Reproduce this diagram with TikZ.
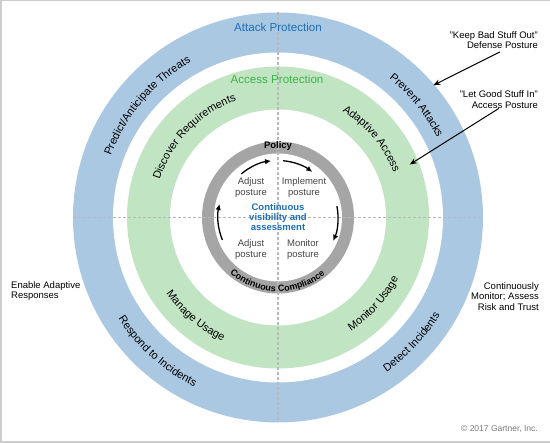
\documentclass[tikz,border=0pt]{standalone}
\usepackage{fontspec}
\setmainfont{Liberation Sans}
\usepackage{xcolor}
\usetikzlibrary{arrows.meta,positioning,decorations.text}
\definecolor{ringblue}{RGB}{170,200,226}
\definecolor{ringgreen}{RGB}{193,228,195}
\definecolor{ringgray}{RGB}{165,165,165}
\definecolor{attblue}{RGB}{30,110,185}
\definecolor{accgreen}{RGB}{60,180,70}
\definecolor{dashc}{RGB}{185,185,185}
\definecolor{framec}{RGB}{205,205,205}
\definecolor{innc}{RGB}{70,70,70}
\definecolor{copyc}{RGB}{120,120,120}

\begin{document}
\begin{tikzpicture}[x=1pt, y=1pt,
  head/.style={font=\fontsize{11.6}{13}\selectfont, inner sep=0pt},
  bold/.style={font=\bfseries\fontsize{9.5}{10}\selectfont, inner sep=0pt, align=center},
  inn/.style={font=\fontsize{9.5}{11}\selectfont, inner sep=0pt, align=center, text=innc},
  side/.style={font=\fontsize{9.5}{10.5}\selectfont, inner sep=0pt},
  topring/.style={decorate, decoration={text along path, text align=center,
      text={|\fontsize{11}{13}\selectfont|#1}}},
  botring/.style={decorate, decoration={text along path, text align=center,
      text={|\fontsize{11}{13}\selectfont|#1}}},
  dsh/.style={draw=dashc, line width=1.3pt, dash pattern=on 3pt off 2pt},
  cyc/.style={-{Latex[length=6pt,width=5.5pt]}, line width=1.3pt},
  a/.style={-{Stealth[length=7pt,width=5.5pt]}, line width=1pt}
]
  \useasboundingbox (0,0) rectangle (550,443);
  \draw[framec, line width=1.5pt] (550,442.25) -- (0.75,442.25) -- (0.75,0.75) -- (550,0.75);
  \coordinate (c) at (278,225.5);

  % rings
  \fill[ringblue] (c) circle (205);
  \fill[white] (c) circle (165);
  \fill[ringgreen] (c) circle (151);
  \fill[white] (c) circle (108);
  \fill[ringgray] (c) circle (76);
  \fill[white] (c) circle (64);

  % quadrant lines
  \coordinate (w) at ([shift={(180:205)}]c);
  \coordinate (e) at ([shift={(0:205)}]c);
  \coordinate (n) at ([shift={(90:205)}]c);
  \coordinate (s) at ([shift={(270:205)}]c);
  \draw[dsh] (w) -- (e);
  \draw[dsh] (n) -- (s);

  % headings
  \node[head, text=attblue] (attack) at (278,416) {Attack Protection};
  \node[head, text=accgreen] (access) at (277,364) {Access Protection};
  \node[bold] (policy) at (278,297) {Policy};

  % blue ring
  \path[topring={Predict/Anticipate Threats}] ([shift={(180:178)}]c) arc[start angle=180, end angle=99, radius=178];
  \path[topring={Prevent Attacks}] ([shift={(79:178)}]c) arc[start angle=79, end angle=-1, radius=178];
  \path[botring={Respond to Incidents}] ([shift={(188:189)}]c) arc[start angle=188, end angle=268, radius=189];
  \path[botring={Detect Incidents}] ([shift={(277:189)}]c) arc[start angle=277, end angle=357, radius=189];

  % green ring
  \path[topring={Discover Requirements}] ([shift={(181:124)}]c) arc[start angle=181, end angle=91, radius=124];
  \path[topring={Adaptive Access}] ([shift={(85:124)}]c) arc[start angle=85, end angle=-5, radius=124];
  \path[botring={Manage Usage}] ([shift={(185:135)}]c) arc[start angle=185, end angle=275, radius=135];
  \path[botring={Monitor Usage}] ([shift={(273:135)}]c) arc[start angle=273, end angle=363, radius=135];

  % gray ring
  \path[decorate, decoration={text along path, text align=center,
      text={|\bfseries\fontsize{9}{10}\selectfont|Continuous Compliance}}]
    ([shift={(209.5:74)}]c) arc[start angle=209.5, end angle=329.5, radius=74];

  % cycle
  \node[inn] (adjA) at (251,255.5) {Adjust\\posture};
  \node[inn] (impl) at (304,255.5) {Implement\\posture};
  \node[inn] (adjB) at (251,193.5) {Adjust\\posture};
  \node[inn] (mon) at (303,193.5) {Monitor\\posture};
  \node[bold, text=attblue] (vis) at (c) {Continuous\\visibility and\\assessment};
  \draw[cyc] ([shift={(130:57)}]c) arc[start angle=130, end angle=97, radius=57];
  \draw[cyc] ([shift={(85:57)}]c) arc[start angle=85, end angle=53, radius=57];
  \draw[cyc] ([shift={(11:60)}]c) arc[start angle=11, end angle=-23, radius=60];
  \draw[cyc] ([shift={(202:60)}]c) arc[start angle=202, end angle=167, radius=60];

  % side notes
  \node[side, anchor=east, align=right] (keep) at (538,403) {"Keep Bad Stuff Out"\\Defense Posture};
  \node[side, anchor=east, align=right] (good) at (538,343.5) {"Let Good Stuff In"\\Access Posture};
  \node[side, anchor=west, align=left] (enable) at (11,152) {Enable Adaptive\\Responses};
  \node[side, anchor=east, align=right] (cont) at (539,146.5) {Continuously\\Monitor; Assess\\Risk and Trust};
  \node[anchor=east, inner sep=0pt, text=copyc, font=\fontsize{8.5}{10}\selectfont] (copy) at (538,14) {© 2017 Gartner, Inc.};

  \coordinate (defTip) at ([shift={(40.4:204)}]c);
  \coordinate (accTip) at ([shift={(21.9:142)}]c);
  \draw[a] ([xshift=6pt,yshift=-3pt]keep.south) -- (defTip);
  \draw[a] (good.south) -- (accTip);
\end{tikzpicture}
\end{document}
